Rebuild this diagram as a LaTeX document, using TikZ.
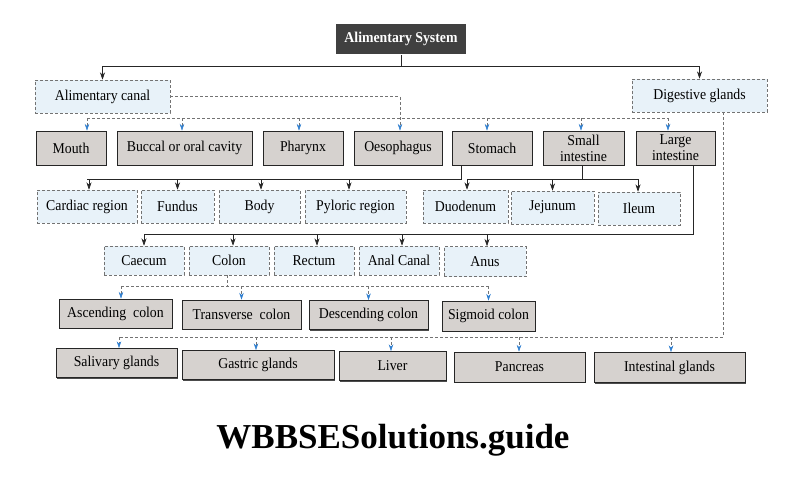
\documentclass[tikz,border=0pt]{standalone}
\usepackage{fontspec}
\setmainfont{Liberation Serif}[FakeStretch=0.92]
\newfontfamily\wmfont{Liberation Serif}
\usepackage{xcolor}
\usepackage{tikz}
\usetikzlibrary{positioning,arrows.meta,shadows}

\definecolor{boxgray}{HTML}{D6D2CF}
\definecolor{boxblue}{HTML}{E8F2F9}
\definecolor{tipblue}{HTML}{2F7FD0}

\begin{document}
\begin{tikzpicture}[
  x=1pt, y=1pt,
  font=\fontsize{15}{16}\selectfont,
  every node/.style={align=center, inner sep=0pt},
  box/.style   ={minimum height=33pt, line width=0.6pt},
  topbox/.style={box, fill=black!75, draw=black, double=white, double distance=1.6pt,
                 text=white, font=\fontsize{15}{16}\selectfont\bfseries},
  gbox/.style  ={box, fill=boxgray, draw=black!85,
                 drop shadow={shadow xshift=1.2pt, shadow yshift=-1.2pt, fill=black!70, opacity=1}},
  bbox/.style  ={box, fill=boxblue, draw=black!55, densely dashed},
  arr/.style   ={-{Stealth[length=2.6mm,width=1.8mm]}, line width=0.6pt, black!85},
  line/.style  ={line width=0.6pt, black!85},
  darr/.style  ={-{Stealth[length=2.4mm,width=1.6mm,color=tipblue]}, line width=0.5pt,
                 black!55, densely dashed},
  dline/.style ={line width=0.5pt, black!55, densely dashed}
]
\useasboundingbox (0,0) rectangle (802,-484);

% --- Top and first level ---
\node[topbox, minimum width=132pt, minimum height=32pt] (sys) at (401,-39) {Alimentary System};
\node[bbox, minimum width=135pt] (canal)  at (102.5,-96.5) {Alimentary canal};
\node[bbox, minimum width=135pt] (glands) at (699.5,-95.5) {Digestive glands};

% --- Parts of the alimentary canal ---
\node[gbox, minimum width=70pt,  minimum height=34pt] (mouth)  at (71,-148)    {Mouth};
\node[gbox, minimum width=135pt, minimum height=34pt] (buccal) at (184.5,-148) {Buccal or oral cavity};
\node[gbox, minimum width=80pt,  minimum height=34pt] (phar)   at (303,-148)   {Pharynx};
\node[gbox, minimum width=88pt,  minimum height=34pt] (oeso)   at (398,-148)   {Oesophagus};
\node[gbox, minimum width=80pt,  minimum height=34pt] (stom)   at (492,-148)   {Stomach};
\node[gbox, minimum width=81pt,  minimum height=34pt] (small)  at (583.5,-148) {Small\\intestine};
\node[gbox, minimum width=79pt,  minimum height=34pt] (large)  at (675.5,-148) {Large\\intestine};

% --- Stomach and small intestine ---
\node[bbox, minimum width=100pt] (card)  at (87,-206.5)    {Cardiac region};
\node[bbox, minimum width=73pt]  (fund)  at (177.5,-206.5) {Fundus};
\node[bbox, minimum width=81pt]  (body)  at (259.5,-206.5) {Body};
\node[bbox, minimum width=101pt] (pylo)  at (355.5,-206.5) {Pyloric region};
\node[bbox, minimum width=85pt]  (duod)  at (465.5,-206.5) {Duodenum};
\node[bbox, minimum width=83pt]  (jeju)  at (552.5,-207.5) {Jejunum};
\node[bbox, minimum width=82pt]  (ileum) at (639,-208.5)   {Ileum};

% --- Large intestine ---
\node[bbox, minimum width=80pt, minimum height=29pt] (caec)  at (144,-260.5) {Caecum};
\node[bbox, minimum width=80pt, minimum height=29pt] (colon) at (229,-260.5) {Colon};
\node[bbox, minimum width=80pt, minimum height=29pt] (rect)  at (314,-260.5) {Rectum};
\node[bbox, minimum width=80pt, minimum height=29pt] (anal)  at (399,-260.5) {Anal Canal};
\node[bbox, minimum width=82pt, minimum height=30pt] (anus)  at (485,-261.5) {Anus};

% --- Colon ---
\node[gbox, minimum width=113pt, minimum height=29pt] (asc)   at (115.5,-313.5) {Ascending\ \ colon};
\node[gbox, minimum width=119pt, minimum height=29pt] (trans) at (241.5,-314.5) {Transverse\ \ colon};
\node[gbox, minimum width=119pt, minimum height=29pt] (desc)  at (368.5,-315)   {Descending colon};
\node[gbox, minimum width=93pt,  minimum height=30pt] (sigm)  at (488.5,-316)   {Sigmoid colon};

% --- Digestive glands ---
\node[gbox, minimum width=121pt, minimum height=29pt] (saliv) at (116.5,-363) {Salivary glands};
\node[gbox, minimum width=152pt, minimum height=29pt] (gastr) at (258,-365)   {Gastric glands};
\node[gbox, minimum width=107pt, minimum height=29pt] (liver) at (392.5,-366) {Liver};
\node[gbox, minimum width=131pt, minimum height=30pt] (pancr) at (519.5,-367) {Pancreas};
\node[gbox, minimum width=151pt, minimum height=30pt] (intes) at (669.5,-367.5) {Intestinal glands};

\node[font=\wmfont\fontsize{35}{36}\selectfont\bfseries, anchor=base] (wm) at (393,-448)
  {WBBSESolutions.guide};

% --- Helper rails ---
\coordinate (r0) at (0,-66);
\coordinate (r1) at (0,-118);
\coordinate (r2) at (0,-179);
\coordinate (r3) at (0,-234);
\coordinate (r4) at (0,-286);
\coordinate (r5) at (0,-337);

% --- Top split ---
\draw[line] (sys.south) -- (sys.south |- r0);
\draw[arr] (sys.south |- r0) -| (canal.north);
\draw[arr] (sys.south |- r0) -| (glands.north);

% --- Alimentary canal (dashed) ---
\draw[darr] (canal.east) -| ([xshift=2pt]oeso.north);
\draw[dline] ([xshift=16pt]mouth.north |- r1) -- ([xshift=-7.5pt]large.north |- r1);
\draw[darr] ([xshift=16pt]mouth.north |- r1)   -- ([xshift=16pt]mouth.north);
\draw[darr] ([xshift=-2.5pt]buccal.north |- r1) -- ([xshift=-2.5pt]buccal.north);
\draw[darr] ([xshift=-4pt]phar.north |- r1)    -- ([xshift=-4pt]phar.north);
\draw[darr] ([xshift=-5pt]stom.north |- r1)    -- ([xshift=-5pt]stom.north);
\draw[darr] ([xshift=-2.5pt]small.north |- r1) -- ([xshift=-2.5pt]small.north);
\draw[darr] ([xshift=-7.5pt]large.north |- r1) -- ([xshift=-7.5pt]large.north);

% --- Stomach ---
\draw[line] ([xshift=-31pt]stom.south) -- ([xshift=-31pt]stom.south |- r2) -- (card.north |- r2);
\draw[arr] ([xshift=2pt]card.north |- r2)   -- ([xshift=2pt]card.north);
\draw[arr] (fund.north |- r2)               -- (fund.north);
\draw[arr] ([xshift=1.5pt]body.north |- r2) -- ([xshift=1.5pt]body.north);
\draw[arr] ([xshift=-6.5pt]pylo.north |- r2) -- ([xshift=-6.5pt]pylo.north);

% --- Small intestine ---
\draw[line] ([xshift=-1.5pt]small.south) -- ([xshift=-1.5pt]small.south |- r2);
\draw[line] ([xshift=1.5pt]duod.north |- r2) -- ([xshift=-1pt]ileum.north |- r2);
\draw[arr] ([xshift=1.5pt]duod.north |- r2) -- ([xshift=1.5pt]duod.north);
\draw[arr] (jeju.north |- r2)                -- (jeju.north);
\draw[arr] ([xshift=-1pt]ileum.north |- r2) -- ([xshift=-1pt]ileum.north);

% --- Large intestine ---
\draw[line] ([xshift=17.5pt]large.south) -- ([xshift=17.5pt]large.south |- r3) -- (caec.north |- r3);
\draw[arr] (caec.north |- r3)                -- (caec.north);
\draw[arr] ([xshift=4pt]colon.north |- r3)  -- ([xshift=4pt]colon.north);
\draw[arr] ([xshift=3pt]rect.north |- r3)   -- ([xshift=3pt]rect.north);
\draw[arr] ([xshift=3pt]anal.north |- r3)   -- ([xshift=3pt]anal.north);
\draw[arr] ([xshift=2pt]anus.north |- r3)   -- ([xshift=2pt]anus.north);

% --- Colon (dashed) ---
\draw[dline] ([xshift=-2pt]colon.south) -- ([xshift=-2pt]colon.south |- r4);
\draw[dline] ([xshift=5.5pt]asc.north |- r4) -- (sigm.north |- r4);
\draw[darr] ([xshift=5.5pt]asc.north |- r4) -- ([xshift=5.5pt]asc.north);
\draw[darr] (trans.north |- r4)              -- (trans.north);
\draw[darr] (desc.north |- r4)               -- (desc.north);
\draw[darr] (sigm.north |- r4)               -- (sigm.north);

% --- Digestive glands (dashed) ---
\draw[dline] ([xshift=23.5pt]glands.south) -- ([xshift=23.5pt]glands.south |- r5)
  -- ([xshift=2.5pt]saliv.north |- r5);
\draw[darr] ([xshift=2.5pt]saliv.north |- r5) -- ([xshift=2.5pt]saliv.north);
\draw[darr] ([xshift=-2pt]gastr.north |- r5) -- ([xshift=-2pt]gastr.north);
\draw[darr] ([xshift=-1.5pt]liver.north |- r5) -- ([xshift=-1.5pt]liver.north);
\draw[darr] ([xshift=-0.5pt]pancr.north |- r5) -- ([xshift=-0.5pt]pancr.north);
\draw[darr] ([xshift=1.5pt]intes.north |- r5) -- ([xshift=1.5pt]intes.north);

\end{tikzpicture}
\end{document}
